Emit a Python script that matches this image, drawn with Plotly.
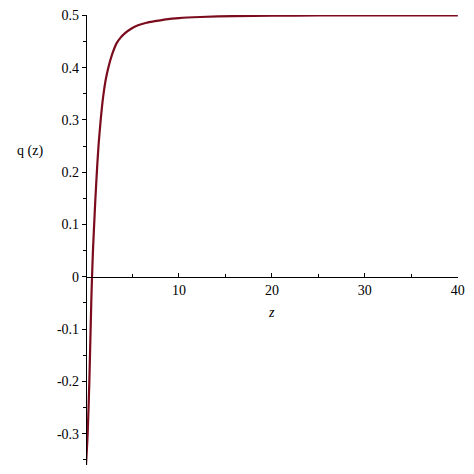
import plotly.graph_objects as go

# curve values
z = [0, 0.18, 0.36, 0.57, 0.65, 0.75, 1.0, 1.2, 1.36, 1.58, 1.85, 2.1, 2.4, 2.8, 3.3, 3.7,
     4.2, 4.9, 5.6, 6.5, 7.4, 8.6, 10, 12.3, 16, 20, 25, 30, 35, 40]
q = [-0.36, -0.30, -0.20, -0.046, 0.0, 0.05, 0.146, 0.21, 0.254, 0.30, 0.345, 0.375, 0.40, 0.425,
     0.447, 0.457, 0.466, 0.475, 0.481, 0.486, 0.489, 0.4925, 0.495, 0.497, 0.4988, 0.4994,
     0.4998, 0.5, 0.5, 0.5]

x_ticks = [10, 20, 30, 40]
y_ticks = [-0.3, -0.2, -0.1, 0, 0.1, 0.2, 0.3, 0.4, 0.5]
y_labels = ["-0.3", "-0.2", "-0.1", "0", "0.1", "0.2", "0.3", "0.4", "0.5"]

ymin, ymax = -0.36, 0.5008

fig = go.Figure()
fig.add_trace(go.Scatter(x=z, y=q, mode='lines',
                         line=dict(color='#7B0C1E', width=2.2, shape='spline', smoothing=0.6)))

font = dict(family="'Liberation Serif', 'Times New Roman', serif", size=14, color='black')
fig.update_layout(
    width=474, height=474,
    # page body adds 8px, so margins are shifted
    margin=dict(l=78, r=24, t=7, b=17),
    plot_bgcolor='white', paper_bgcolor='white',
    showlegend=False,
    font=font,
    xaxis=dict(range=[0, 40.02], tickvals=x_ticks, showgrid=False, zeroline=False,
               showline=True, linecolor='black', linewidth=1.2, automargin=False,
               ticks='inside', ticklen=4, tickcolor='black',
               minor=dict(tickvals=[5, 15, 25, 35], ticks='inside', ticklen=3, tickcolor='black'),
               anchor='free', position=(0 - ymin) / (ymax - ymin), tickfont=font),
    yaxis=dict(range=[ymin, ymax], tickvals=y_ticks, ticktext=y_labels, showgrid=False,
               zeroline=False, showline=True, linecolor='black', linewidth=1.2, automargin=False,
               ticks='outside', ticklen=4, tickcolor='black',
               minor=dict(tickvals=[-0.35, -0.25, -0.15, -0.05, 0.05, 0.15, 0.25, 0.35, 0.45],
                          ticks='outside', ticklen=3, tickcolor='black'),
               anchor='free', position=0, tickfont=font),
)

fig.add_annotation(text='q (z)', xref='paper', yref='y', x=-0.192, y=0.241,
                   showarrow=False, font=font)
fig.add_annotation(text='<i>z</i>', xref='x', yref='y', x=20, y=-0.069,
                   showarrow=False, font=font)

fig.write_html("out.html")
